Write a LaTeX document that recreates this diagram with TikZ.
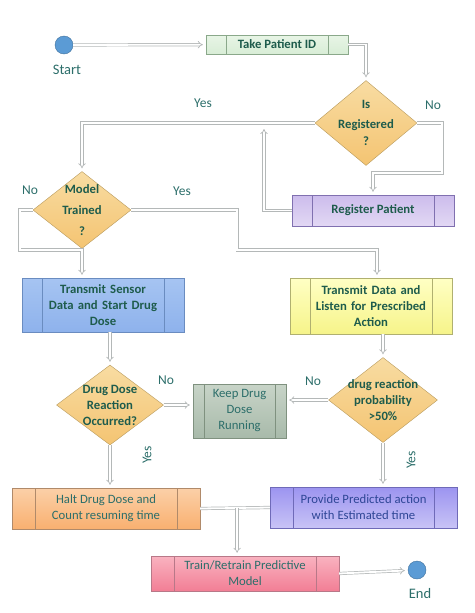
\documentclass[tikz,border=0pt]{standalone}
\usepackage{fontspec}
\setmainfont{Carlito}
\usetikzlibrary{shapes.geometric,arrows.meta,calc}

\definecolor{labelc}{HTML}{2C6E6A}
\definecolor{boldc}{HTML}{1E5C4C}
\definecolor{linec}{HTML}{B4B8B8}
\definecolor{diatop}{HTML}{F8DCA2}
\definecolor{diabot}{HTML}{F4C472}
\definecolor{diab}{HTML}{B89A5C}
\definecolor{circf}{HTML}{5B9BD5}
\definecolor{circb}{HTML}{41719C}
% box colours: border, top, bottom
\definecolor{takeb}{HTML}{8AA88A}\definecolor{taket}{HTML}{E8F5E6}\definecolor{takeu}{HTML}{D8EDD6}
\definecolor{regb}{HTML}{8070B0}\definecolor{regt}{HTML}{CCBCEC}\definecolor{regu}{HTML}{E2D8F4}
\definecolor{sensb}{HTML}{6A8CC0}\definecolor{senst}{HTML}{A6C4F2}\definecolor{sensu}{HTML}{8EB2EC}
\definecolor{datab}{HTML}{B0B070}\definecolor{datat}{HTML}{FFFFC4}\definecolor{datau}{HTML}{F6F48A}
\definecolor{keepb}{HTML}{7F917F}\definecolor{keept}{HTML}{C8D4C8}\definecolor{keepu}{HTML}{A8BAAA}
\definecolor{haltb}{HTML}{B08A6A}\definecolor{haltt}{HTML}{FBD0A8}\definecolor{haltu}{HTML}{F9B070}
\definecolor{provb}{HTML}{6F6AB8}\definecolor{provt}{HTML}{9C94F0}\definecolor{provu}{HTML}{C8C3F6}
\definecolor{provc}{HTML}{2E4696}
\definecolor{trainb}{HTML}{B87888}\definecolor{traint}{HTML}{F9B3C0}\definecolor{trainu}{HTML}{F27E95}
\newcommand{\procinset}{20pt}
\newcommand{\boxfont}{\fontsize{12.7}{16}\selectfont}

\tikzset{
  flow/.style={draw=linec,double=white,double distance=1.8pt,line width=0.7pt,
    -{Implies[scale=1.8]},shorten >=3pt},
  link/.style={draw=linec,double=white,double distance=1.8pt,line width=0.7pt},
  proc/.style={rectangle,draw=#1b,top color=#1t,bottom color=#1u,align=center,inner sep=2pt,
    path picture={\draw[#1b] ([xshift=\procinset]path picture bounding box.north west)
      -- ([xshift=\procinset]path picture bounding box.south west);
      \draw[#1b] ([xshift=-\procinset]path picture bounding box.north east)
      -- ([xshift=-\procinset]path picture bounding box.south east);}},
  decision/.style={diamond,draw=diab,top color=diatop,bottom color=diabot,
    inner sep=-14pt,align=center,font=\boxfont\bfseries,text=boldc},
  endpoint/.style={circle,draw=circb,fill=circf,minimum size=18pt,inner sep=0pt},
  answer/.style={text=labelc,font=\fontsize{13.5}{15}\selectfont},
}

\begin{document}
\begin{tikzpicture}[x=1pt,y=-1pt,font=\boxfont]
	\useasboundingbox (0,0) rectangle (474,613);
	
	\node[endpoint] (start) at (64,45) {};
	\node[text=labelc,font=\fontsize{14.5}{16}\selectfont] (startl) at (67,70) {Start};
	\node[proc=take,minimum width=142pt,minimum height=19pt,font=\boxfont\bfseries,text=boldc] (take) at (277,44.5) {Take Patient ID};
	
	\node[decision,minimum width=102pt,minimum height=85pt] (isreg) at (366,123)
	  {Is\\[4pt]Registered\\[1pt]?};
	\node[answer] (yes1) at (203,103) {Yes};
	\node[answer] (no1) at (433,105) {No};
	\node[proc=reg,minimum width=162pt,minimum height=31pt,font=\boxfont\bfseries,text=boldc] (reg) at (373,210.5) {Register Patient};
	\coordinate (back) at (264,126);
	
	\node[decision,minimum width=98pt,minimum height=77pt] (model) at (82,210)
	  {Model\\[5pt]Trained\\[5pt]?};
	\node[answer] (no2) at (30,190) {No};
	\node[answer] (yes2) at (182,191) {Yes};
	
	\node[proc=sens,minimum width=162pt,minimum height=54pt,text width=118pt,font=\boxfont\bfseries,text=boldc] (sensor) at (103,305)
	  {Transmit Sensor\\Data and Start Drug\\Dose};
	\node[proc=data,minimum width=162pt,minimum height=56pt,text width=118pt,font=\boxfont\bfseries,text=boldc] (data) at (371,306)
	  {Transmit Data and\\Listen for Prescribed\\Action};
	
	\node[decision,minimum width=107pt,minimum height=80pt] (drug) at (110,405)
	  {Drug Dose\\Reaction\\Occurred?};
	\node[decision,minimum width=109pt,minimum height=85pt] (prob) at (383,400)
	  {drug reaction\\probability\\>50\%};
	\node[answer] (no3) at (166,380) {No};
	\node[answer] (no4) at (313,381) {No};
	\renewcommand{\procinset}{11pt}
	\node[proc=keep,minimum width=93pt,minimum height=54pt,text=labelc] (keep) at (239.5,411)
	  {Keep Drug\\Dose\\Running};
	\renewcommand{\procinset}{23pt}
	
	\node[answer,rotate=90] (yes3) at (147,455) {Yes};
	\node[answer,rotate=90] (yes4) at (411,460) {Yes};
	
	\node[proc=halt,minimum width=188pt,minimum height=41pt,text=labelc] (halt) at (106,508.5)
	  {Halt Drug Dose and\\Count resuming time};
	\node[proc=prov,minimum width=187pt,minimum height=41pt,text=provc] (provide) at (363.5,507.5)
	  {Provide Predicted action\\with Estimated time};
	\coordinate (merge) at ($(halt.east)!0.53!(provide.west)$);
	\node[proc=train,minimum width=188pt,minimum height=35pt,text=labelc] (train) at (245,573.5)
	  {Train/Retrain Predictive\\Model};
	\node[endpoint] (end) at (417,570) {};
	\node[text=labelc,font=\fontsize{14.5}{16}\selectfont] (endl) at (420,594) {End};
	
	\draw[flow] (start) -- (take);
	\draw[flow] (take.east) -| (isreg.north);
	\draw[flow] (isreg.west) -| (model.north);
	\draw[flow] (isreg.east) -| ++(25,50) -| (reg.north);
	\draw[flow] (reg.west) -| (back);
	\draw[flow] (model.west) -| ++(-13,40) -| (model.south |- sensor.north);
	\draw[flow] (model.east) -| ++(106,40) -| ([xshift=6pt]data.north);
	\draw[flow] (drug.north |- sensor.south) -- (drug.north);
	\draw[flow] (prob.north |- data.south) -- (prob.north);
	\draw[flow] (drug.east) -- (drug.east -| keep.west);
	\draw[flow] (prob.west) -- (prob.west -| keep.east);
	\draw[flow] (drug.south) -- (drug.south |- halt.north);
	\draw[flow] (prob.south) -- (prob.south |- provide.north);
	\draw[link] (halt.east) -- (provide.west);
	\draw[flow] (merge) -- (merge |- train.north);
	\draw[flow] (train.east) -- (end);
	
\end{tikzpicture}
\end{document}
